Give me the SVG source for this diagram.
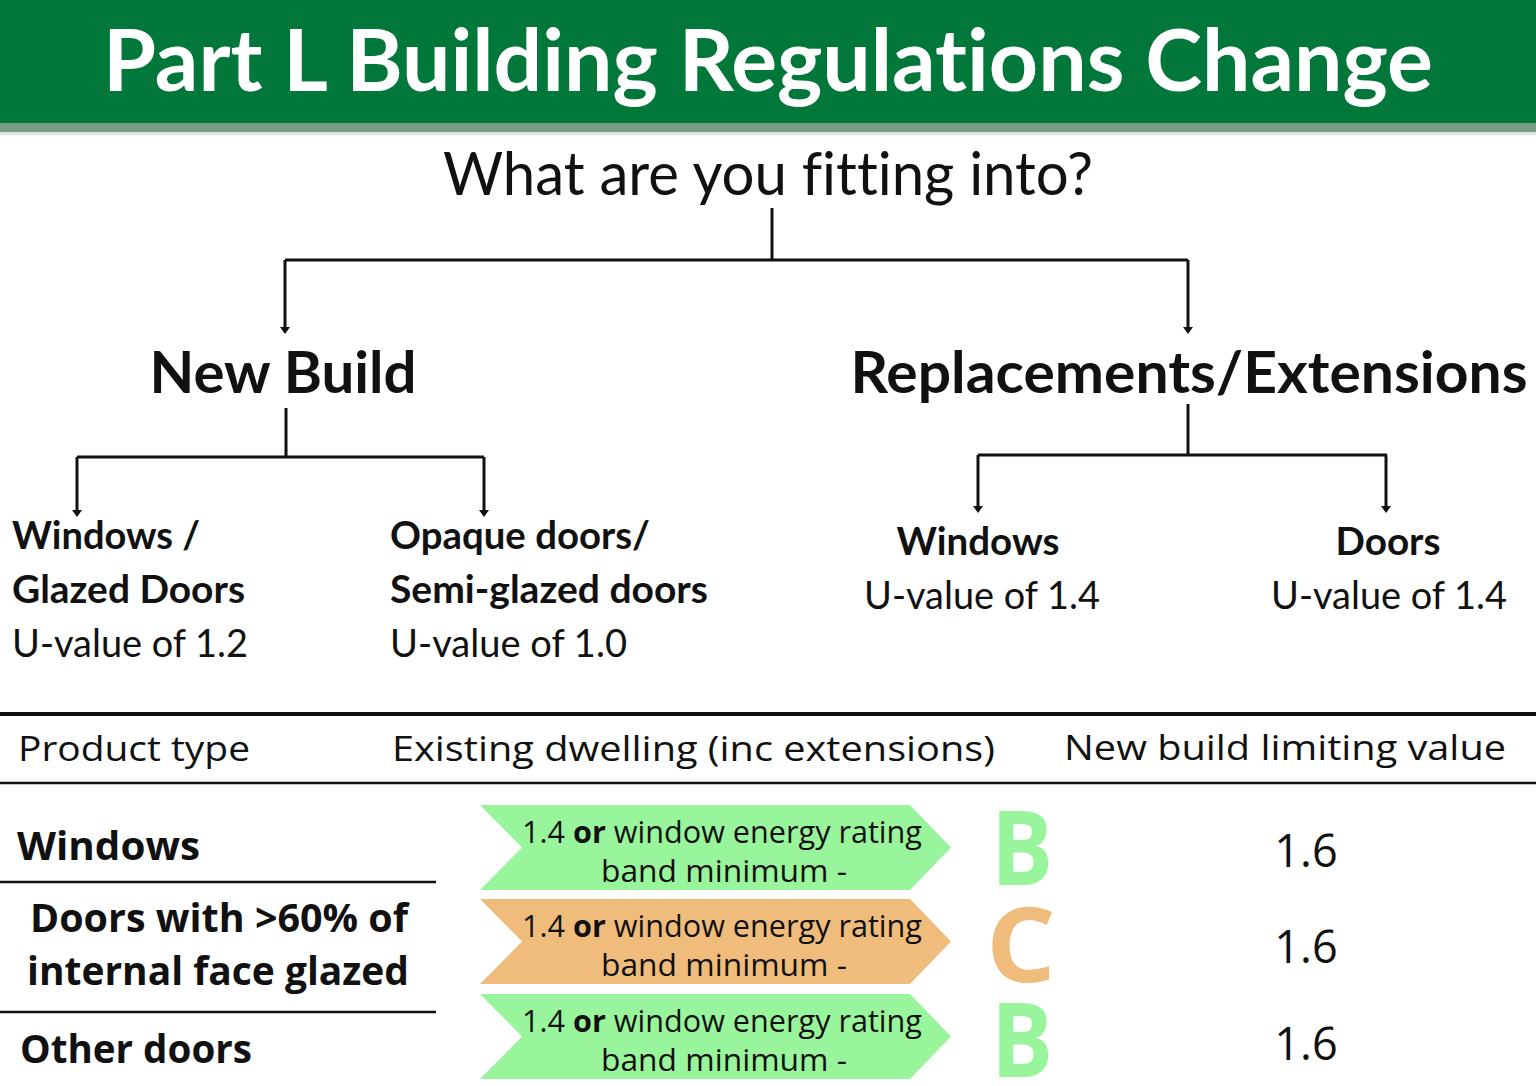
<svg xmlns="http://www.w3.org/2000/svg" width="1536" height="1086" viewBox="0 0 1536 1086">
<style>
text{font-variant-ligatures:none}
.lato{font-family:Lato,"Liberation Sans",sans-serif;fill:#111}
.b{font-weight:700}
.tbl{font-family:"Open Sans","Noto Sans","Liberation Sans",sans-serif;fill:#111}
.conn{fill:none;stroke:#111;stroke-width:3}
.rule{stroke:#111;stroke-width:2.5}
.green{fill:#99f59b}
.orange{fill:#f0bc7c}
</style>
<defs>
<marker id="arr" viewBox="0 0 7 10" refX="0" refY="5" markerWidth="7" markerHeight="10" markerUnits="userSpaceOnUse" orient="auto">
<path d="M0,0 L7,5 L0,10 z" fill="#111"/>
</marker>
<polygon id="chev" points="0,0 430,0 471,42.5 430,85 0,85 42,42.5"/>
</defs>
<rect width="1536" height="1086" fill="#ffffff"/>
<g id="header">
<rect x="0" y="0" width="1536" height="123" fill="#02773a"/>
<rect x="0" y="123" width="1536" height="9" fill="#7a9c86"/>
<rect x="0" y="132" width="1536" height="3" fill="#dbe5de"/>
<text x="768" y="91" text-anchor="middle" font-family="Lato,'Liberation Sans',sans-serif" font-weight="700" font-size="86" fill="#ffffff" textLength="1330" lengthAdjust="spacingAndGlyphs">Part L Building Regulations Change</text>
</g>
<g id="question"><text class="lato" x="768" y="195" text-anchor="middle" font-size="60" textLength="650" lengthAdjust="spacingAndGlyphs">What are you fitting into?</text></g>
<g id="connectors">
<path class="conn" d="M772,208 V260 M285,260 H1188"/>
<path class="conn" d="M285,260 V327" marker-end="url(#arr)"/>
<path class="conn" d="M1188,260 V327" marker-end="url(#arr)"/>
<path class="conn" d="M286,408 V457 M77,457 H484"/>
<path class="conn" d="M77,457 V510" marker-end="url(#arr)"/>
<path class="conn" d="M484,457 V510" marker-end="url(#arr)"/>
<path class="conn" d="M1188,404 V455 M978,455 H1387"/>
<path class="conn" d="M978,455 V506" marker-end="url(#arr)"/>
<path class="conn" d="M1386,455 V506" marker-end="url(#arr)"/>
</g>
<g id="new-build"><text class="lato b" x="283" y="393" text-anchor="middle" font-size="58" textLength="267" lengthAdjust="spacingAndGlyphs">New Build</text></g>
<g id="replacements"><text class="lato b" x="1189" y="393" text-anchor="middle" font-size="58" textLength="677" lengthAdjust="spacingAndGlyphs">Replacements/Extensions</text></g>
<g id="nb-windows">
<text class="lato b" x="12" y="549" font-size="39" textLength="188" lengthAdjust="spacingAndGlyphs">Windows /</text>
<text class="lato b" x="12" y="603" font-size="39" textLength="233" lengthAdjust="spacingAndGlyphs">Glazed Doors</text>
<text class="lato" x="12" y="657" font-size="39" textLength="236" lengthAdjust="spacingAndGlyphs">U-value of 1.2</text>
</g>
<g id="nb-doors">
<text class="lato b" x="390" y="549" font-size="39" textLength="260" lengthAdjust="spacingAndGlyphs">Opaque doors/</text>
<text class="lato b" x="390" y="603" font-size="39" textLength="318" lengthAdjust="spacingAndGlyphs">Semi-glazed doors</text>
<text class="lato" x="390" y="657" font-size="39" textLength="237" lengthAdjust="spacingAndGlyphs">U-value of 1.0</text>
</g>
<g id="re-windows">
<text class="lato b" x="978" y="555" text-anchor="middle" font-size="39" textLength="163" lengthAdjust="spacingAndGlyphs">Windows</text>
<text class="lato" x="982" y="609" text-anchor="middle" font-size="39" textLength="236" lengthAdjust="spacingAndGlyphs">U-value of 1.4</text>
</g>
<g id="re-doors">
<text class="lato b" x="1388" y="555" text-anchor="middle" font-size="39" textLength="105" lengthAdjust="spacingAndGlyphs">Doors</text>
<text class="lato" x="1389" y="609" text-anchor="middle" font-size="39" textLength="236" lengthAdjust="spacingAndGlyphs">U-value of 1.4</text>
</g>
<g id="table">
<line x1="0" y1="714" x2="1536" y2="714" stroke="#111" stroke-width="4"/>
<line class="rule" x1="0" y1="783" x2="1536" y2="783"/>
<line class="rule" x1="0" y1="882" x2="436" y2="882"/>
<line class="rule" x1="0" y1="1012" x2="436" y2="1012"/>
<text class="tbl" x="18" y="761" font-size="34" font-weight="500" textLength="232" lengthAdjust="spacingAndGlyphs">Product type</text>
<text class="tbl" x="392" y="761" font-size="34" font-weight="500" textLength="603" lengthAdjust="spacingAndGlyphs">Existing dwelling (inc extensions)</text>
<text class="tbl" x="1064" y="760" font-size="34" font-weight="500" textLength="442" lengthAdjust="spacingAndGlyphs">New build limiting value</text>
<text class="tbl b" x="17" y="860" font-size="40" textLength="183" lengthAdjust="spacingAndGlyphs">Windows</text>
<text class="tbl b" x="30" y="932" font-size="40" textLength="378" lengthAdjust="spacingAndGlyphs">Doors with &gt;60% of</text>
<text class="tbl b" x="27" y="985" font-size="40" textLength="382" lengthAdjust="spacingAndGlyphs">internal face glazed</text>
<text class="tbl b" x="20" y="1063" font-size="40" textLength="232" lengthAdjust="spacingAndGlyphs">Other doors</text>
</g>
<g id="row-windows">
<use href="#chev" x="480" y="805" class="green"/>
<text class="tbl" x="522" y="843" font-size="31" font-weight="500" textLength="400" lengthAdjust="spacingAndGlyphs">1.4 <tspan font-weight="700">or</tspan> window energy rating</text>
<text class="tbl" x="601" y="882" font-size="31" font-weight="500" textLength="246" lengthAdjust="spacingAndGlyphs">band minimum -</text>
<text class="tbl b green" x="1022" y="885" text-anchor="middle" font-size="104" textLength="62" lengthAdjust="spacingAndGlyphs">B</text>
<text class="tbl" x="1306" y="867" text-anchor="middle" font-size="45" font-weight="500">1.6</text>
</g>
<g id="row-glazed-doors">
<use href="#chev" x="480" y="899" class="orange"/>
<text class="tbl" x="522" y="937" font-size="31" font-weight="500" textLength="400" lengthAdjust="spacingAndGlyphs">1.4 <tspan font-weight="700">or</tspan> window energy rating</text>
<text class="tbl" x="601" y="976" font-size="31" font-weight="500" textLength="246" lengthAdjust="spacingAndGlyphs">band minimum -</text>
<text class="tbl b orange" x="1021" y="982" text-anchor="middle" font-size="104" textLength="70" lengthAdjust="spacingAndGlyphs">C</text>
<text class="tbl" x="1306" y="963" text-anchor="middle" font-size="45" font-weight="500">1.6</text>
</g>
<g id="row-other-doors">
<use href="#chev" x="480" y="994" class="green"/>
<text class="tbl" x="522" y="1032" font-size="31" font-weight="500" textLength="400" lengthAdjust="spacingAndGlyphs">1.4 <tspan font-weight="700">or</tspan> window energy rating</text>
<text class="tbl" x="601" y="1071" font-size="31" font-weight="500" textLength="246" lengthAdjust="spacingAndGlyphs">band minimum -</text>
<text class="tbl b green" x="1022" y="1077" text-anchor="middle" font-size="104" textLength="62" lengthAdjust="spacingAndGlyphs">B</text>
<text class="tbl" x="1306" y="1060" text-anchor="middle" font-size="45" font-weight="500">1.6</text>
</g>
</svg>
